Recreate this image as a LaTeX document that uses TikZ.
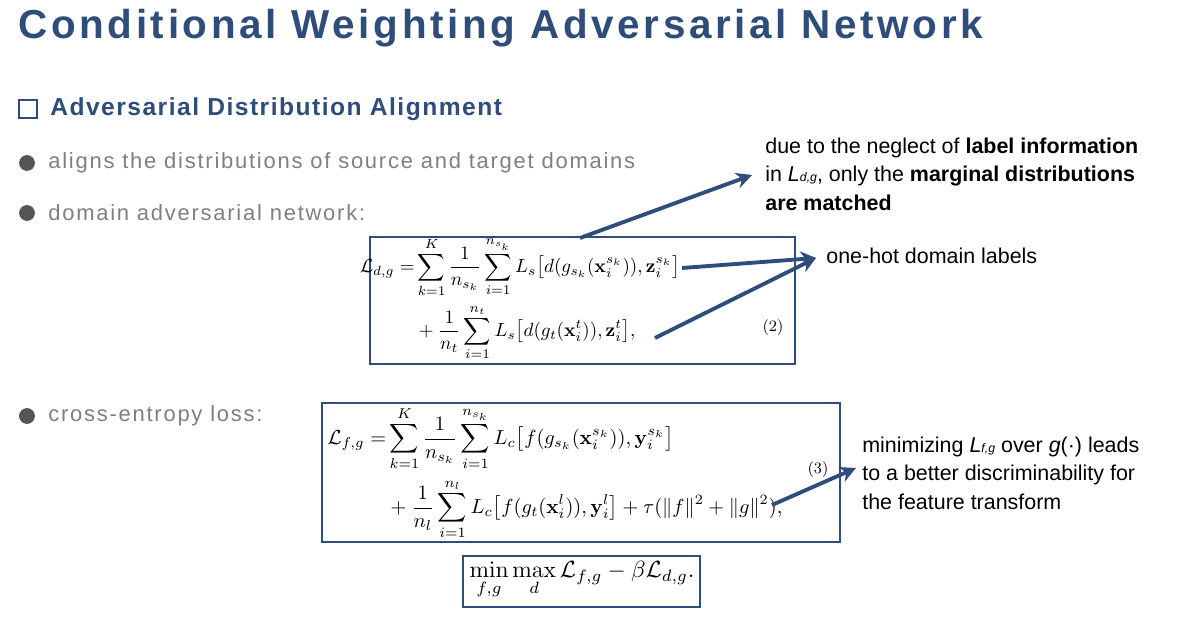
\documentclass[tikz,border=0pt]{standalone}
\usetikzlibrary{arrows.meta}
\usepackage{amsmath,amssymb,graphicx}
\usepackage[no-math]{fontspec}
\setmainfont{Liberation Sans}
\definecolor{tblue}{HTML}{2E4D7B}
\definecolor{agrey}{HTML}{7F7F7F}
\definecolor{bgrey}{HTML}{555555}
\begin{document}
\begin{tikzpicture}[x=0.02cm,y=-0.02cm,
  box/.style={draw=tblue,line width=0.8pt},
  arr/.style={draw=tblue,line width=2.2pt,-{Stealth[length=9pt,width=9pt]}},
  note/.style={anchor=west,font=\fontsize{12.2}{16.3}\selectfont,align=left,inner sep=0},
  bul/.style={circle,fill=bgrey,inner sep=0,minimum size=9pt},
  grey/.style={anchor=west,inner sep=0,text=agrey,font=\fontsize{12.5}{15}\selectfont\addfontfeatures{LetterSpace=8}}]
\useasboundingbox (0,0) rectangle (1190,624);
\node[anchor=west,inner sep=0,text=tblue,font=\fontsize{23}{26}\bfseries\selectfont\addfontfeatures{LetterSpace=9}] (title) at (18,28) {Conditional Weighting Adversarial Network};
\draw[tblue,line width=1.6pt] (19,100) rectangle (37,118);
\node[anchor=west,inner sep=0,text=tblue,font=\fontsize{14}{16}\bfseries\selectfont\addfontfeatures{LetterSpace=6}] (sub) at (50,109) {Adversarial Distribution Alignment};
\node[bul] (b1) at (27,163) {};
\node[bul] (b2) at (27,213) {};
\node[bul] (b3) at (27,416) {};
\node[grey] (t1) at (48,163) {aligns the distributions of source and target domains};
\node[grey] (t2) at (48,213) {domain adversarial network:};
\node[grey] (t3) at (48,416) {cross-entropy loss:};
% boxes
\draw[box] (370,237) rectangle (795,364);
\draw[box] (322,403) rectangle (840,542);
\draw[box] (463,556) rectangle (700,607);
\node[inner sep=0] (eq2) at (520,299) {\resizebox{6.4cm}{!}{$\begin{aligned}\mathcal{L}_{d,g}=&\sum_{k=1}^{K}\frac{1}{n_{s_k}}\sum_{i=1}^{n_{s_k}}L_s\big[d(g_{s_k}(\mathbf{x}_i^{s_k})),\mathbf{z}_i^{s_k}\big]\\&+\frac{1}{n_t}\sum_{i=1}^{n_t}L_s\big[d(g_t(\mathbf{x}_i^{t})),\mathbf{z}_i^{t}\big],\end{aligned}$}};
\node[inner sep=0,font=\fontsize{9}{11}\selectfont] (n2) at (773,328) {$(2)$};
\node[inner sep=0] (eq3) at (555,473) {\resizebox{9.1cm}{!}{$\begin{aligned}\mathcal{L}_{f,g}=&\sum_{k=1}^{K}\frac{1}{n_{s_k}}\sum_{i=1}^{n_{s_k}}L_c\big[f(g_{s_k}(\mathbf{x}_i^{s_k})),\mathbf{y}_i^{s_k}\big]\\&+\frac{1}{n_l}\sum_{i=1}^{n_l}L_c\big[f(g_t(\mathbf{x}_i^{l})),\mathbf{y}_i^{l}\big]+\tau(\|f\|^2+\|g\|^2),\end{aligned}$}};
\node[inner sep=0,font=\fontsize{9}{11}\selectfont] (n3) at (818,470) {$(3)$};
\node[inner sep=0] (eq4) at (582,580) {\resizebox{4.5cm}{!}{$\displaystyle\min_{f,g}\max_{d}\mathcal{L}_{f,g}-\beta\mathcal{L}_{d,g}.$}};
% notes
\node[note] (c1) at (765,174) {due to the neglect of \textbf{label information}\\in \textit{L}\textit{\scriptsize d,g}, only the \textbf{marginal distributions}\\\textbf{are matched}};
\node[note] (c2) at (826,256) {one-hot domain labels};
\node[note] (c3) at (862,473) {minimizing \textit{L}\textit{\scriptsize f,g} over \textit{g}(·) leads\\to a better discriminability for\\the feature transform};
% arrows
\coordinate (a1) at (580,238);
\coordinate (a2) at (682,268);
\coordinate (a3) at (655,338);
\coordinate (a4) at (772,505);
\coordinate (h1) at (752,175);
\coordinate (h2) at (816,258);
\coordinate (h4) at (856,468);
\draw[arr] (a1) -- (h1);
\draw[arr] (a2) -- (h2);
\draw[arr] (a3) -- (h2);
\draw[arr] (a4) -- (h4);
\end{tikzpicture}
\end{document}
